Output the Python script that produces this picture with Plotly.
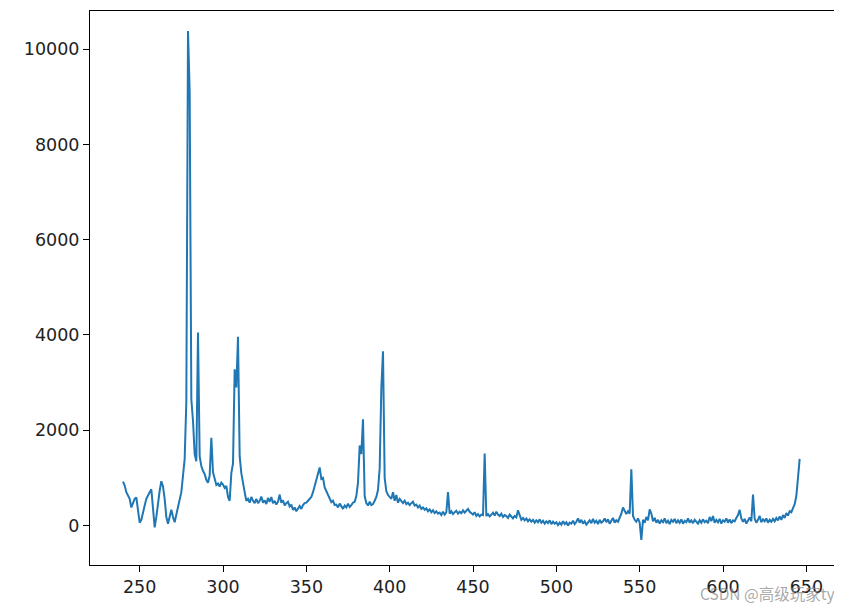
import numpy as np
import plotly.graph_objects as go

wl_start = 240
wl_stop = 646

counts_240_319 = [
    920, 840, 700, 610, 560, 380, 470, 560, 590, 330,
    60, 120, 300, 420, 560, 640, 700, 760, 300, -40,
    180, 520, 730, 930, 820, 560, 180, 40, 170, 330,
    180, 70, 230, 380, 520, 700, 1050, 1400, 2600, 10380,
    9100, 2650, 2200, 1500, 1350, 4050, 1450, 1250, 1150, 1080,
    960, 900, 1050, 1840, 1120, 950, 850, 880, 820, 900,
    860, 790, 830, 600, 520, 1100, 1300, 3280, 2900, 3960,
    1450, 1100, 850, 700, 520, 560, 480, 600, 520, 470,
]
counts_320_399 = [
    560, 470, 520, 610, 480, 530, 450, 580, 500, 600,
    470, 520, 440, 500, 650, 480, 530, 420, 470, 500,
    400, 440, 330, 380, 300, 360, 410, 350, 430, 470,
    480, 520, 560, 600, 700, 820, 950, 1050, 1220, 980,
    1000, 800, 720, 620, 540, 490, 520, 430, 440, 380,
    460, 400, 350, 420, 380, 460, 390, 430, 480, 500,
    620, 900, 1680, 1500, 2230, 620, 470, 420, 500, 430,
    450, 520, 600, 750, 1200, 2880, 3660, 1000, 720, 640,
]
counts_400_479 = [
    600, 560, 700, 520, 640, 480, 560, 500, 470, 520,
    450, 480, 430, 470, 500, 420, 440, 380, 420, 350,
    380, 330, 360, 300, 340, 280, 320, 260, 300, 250,
    270, 220, 290, 230, 280, 700, 250, 300, 240, 280,
    310, 250, 290, 260, 320, 270, 300, 350, 290, 260,
    230, 280, 200, 240, 190, 230, 220, 1510, 200, 240,
    190, 230, 270, 210, 290, 230, 200, 250, 180, 220,
    200, 160, 230, 190, 150, 200, 170, 320, 190, 120,
]
counts_480_559 = [
    160, 110, 150, 90, 130, 80, 120, 60, 110, 70,
    130, 60, 100, 40, 90, 50, 110, 30, 80, 40,
    70, 10, 60, 20, 90, 30, 70, 0, 60, 40,
    100, 30, 80, 150, 60, 120, 40, 90, 20, 70,
    110, 50, 140, 60, 100, 30, 120, 60, 90, 150,
    70, 130, 40, 100, 160, 60, 110, 80, 160, 250,
    380, 320, 240, 300, 250, 1180, 200, 120, 80, 150,
    60, -300, 120, 60, 180, 110, 340, 250, 90, 160,
]
counts_560_646 = [
    60, 120, 40, 110, 70, 150, 50, 100, 30, 120,
    80, 140, 50, 110, 60, 130, 40, 100, 70, 150,
    60, 110, 50, 120, 80, 40, 110, 60, 130, 70,
    100, 50, 180, 90, 200, 60, 120, 70, 140, 40,
    110, 80, 150, 60, 130, 50, 110, 90, 160, 220,
    330, 150, 80, 140, 40, 120, 170, 90, 650, 140,
    60, 120, 200, 70, 130, 90, 150, 60, 120, 80,
    140, 90, 160, 110, 190, 120, 220, 160, 260, 210,
    300, 280, 380, 450, 620, 1000, 1400,
]

intensity = np.array(counts_240_319 + counts_320_399 + counts_400_479
                     + counts_480_559 + counts_560_646)
wavelength = np.arange(wl_start, wl_stop + 1)
assert len(wavelength) == len(intensity)

x_ticks = [250, 300, 350, 400, 450, 500, 550, 600, 650]
y_ticks = [0, 2000, 4000, 6000, 8000, 10000]

fig = go.Figure()
fig.add_trace(go.Scatter(x=wavelength, y=intensity, mode='lines',
                         line=dict(color='#1f77b4', width=2)))

axis_style = dict(showline=True, mirror=True, linecolor='black', linewidth=1,
                  ticks='outside', ticklen=6, tickwidth=1, tickcolor='black',
                  showgrid=False, zeroline=False, automargin=False)

# page body adds an 8px offset, so the figure is 8px smaller than the window
fig.update_layout(
    width=834, height=602,
    margin=dict(l=82, r=8, t=3, b=45),
    paper_bgcolor='white', plot_bgcolor='white',
    showlegend=False,
    font=dict(family='DejaVu Sans', size=17.5, color='#222222'),
    xaxis=dict(range=[220.2, 666.6], tickvals=x_ticks, **axis_style),
    yaxis=dict(range=[-828, 10800], tickvals=y_ticks, tickformat='d',
               **axis_style),
)

fig.add_annotation(text='CSDN @高级玩家ty', xref='paper', yref='paper',
                   x=0.911, y=-0.0505, xanchor='center', yanchor='middle',
                   showarrow=False,
                   font=dict(family='Noto Sans CJK SC', size=15.5,
                             color='rgba(140,140,140,0.75)'))

fig.write_html("out.html")
